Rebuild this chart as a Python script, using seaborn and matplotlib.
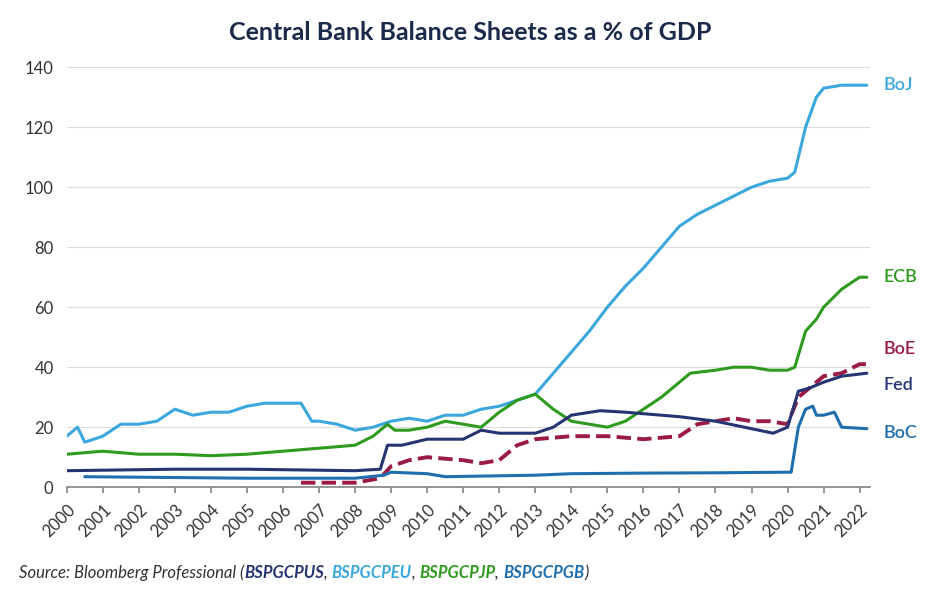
import matplotlib
matplotlib.use("Agg")
import matplotlib.pyplot as plt
import seaborn as sns
import pandas as pd

boj_t = [2000,2000.3,2000.5,2001,2001.5,2002,2002.5,2003,2003.5,2004,2004.5,2005,2005.5,2006,2006.5,2006.8,2007,2007.5,2008,2008.5,2009,2009.5,2010,2010.5,2011,2011.5,2012,2012.5,2013,2013.5,2014,2014.5,2015,2015.5,2016,2016.5,2017,2017.5,2018,2018.5,2019,2019.5,2020,2020.2,2020.5,2020.8,2021,2021.5,2022,2022.2]
boj_v = [17,20,15,17,21,21,22,26,24,25,25,27,28,28,28,22,22,21,19,20,22,23,22,24,24,26,27,29,31,38,45,52,60,67,73,80,87,91,94,97,100,102,103,105,120,130,133,134,134,134]
ecb_t = [2000,2001,2002,2003,2004,2005,2006,2007,2008,2008.5,2008.9,2009.1,2009.5,2010,2010.5,2011,2011.5,2012,2012.5,2013,2013.5,2014,2014.5,2015,2015.5,2016,2016.5,2017,2017.3,2018,2018.5,2019,2019.5,2020,2020.2,2020.5,2020.8,2021,2021.5,2022,2022.2]
ecb_v = [11,12,11,11,10.5,11,12,13,14,17,21,19,19,20,22,21,20,25,29,31,26,22,21,20,22,26,30,35,38,39,40,40,39,39,40,52,56,60,66,70,70]
fed_t = [2000,2003,2005,2008,2008.7,2008.9,2009.3,2010,2011,2011.5,2012,2013,2013.5,2014,2014.8,2015.5,2016,2017,2018,2019,2019.6,2020,2020.3,2020.6,2021,2021.5,2022.2]
fed_v = [5.5,6,6,5.5,6,14,14,16,16,19,18,18,20,24,25.5,25,24.5,23.5,22,19.5,18,20,32,33,35,37,38]
boe_t = [2006.5,2007,2008,2008.7,2009,2009.5,2010,2011,2011.5,2012,2012.5,2013,2014,2015,2016,2017,2017.5,2018,2018.5,2019,2019.5,2020,2020.3,2020.8,2021,2021.5,2022,2022.2]
boe_v = [1.5,1.5,1.5,3,7,9,10,9,8,9,14,16,17,17,16,17,21,22,23,22,22,21,30,35,37,38,41,41]
boc_t = [2000.5,2005,2008,2008.8,2009,2010,2010.5,2012,2013,2014,2016,2018,2020,2020.1,2020.3,2020.5,2020.7,2020.8,2021,2021.3,2021.5,2022.2]
boc_v = [3.5,3,3,4,5,4.5,3.5,3.8,4,4.5,4.7,4.8,5,5,20,26,27,24,24,25,20,19.5]

years = list(range(2000, 2023))

sns.set_theme(style="white")
plt.rcParams['font.family'] = ['Lato', 'DejaVu Sans']

fig = plt.figure(figsize=(9.4, 6.0), dpi=100)
ax = fig.add_axes([0.071, 0.188, 0.855, 0.70])

series = [("BoJ", boj_t, boj_v, "#3AA8DC", "-"),
          ("ECB", ecb_t, ecb_v, "#2E9A1E", "-"),
          ("BoE", boe_t, boe_v, "#9B1B47", "--"),
          ("Fed", fed_t, fed_v, "#263572", "-"),
          ("BoC", boc_t, boc_v, "#1F6FAE", "-")]
for name, t, v, c, ls in series:
    df = pd.DataFrame({"t": t, "v": v})
    sns.lineplot(data=df, x="t", y="v", ax=ax, color=c, linewidth=2.8 if ls == "--" else 2.2, linestyle=ls)
    yl = {"BoJ": 134, "ECB": 70, "BoE": 46, "Fed": 34, "BoC": 18}[name]
    ax.text(2022.65, yl, name, color=c, fontsize=13, fontweight="semibold", va="center", ha="left")

ax.set_xlim(2000, 2022.3)
ax.set_ylim(0, 140)
ax.set_yticks(range(0, 141, 20))
ax.set_xticks(years)
ax.set_xticklabels([str(y) for y in years], rotation=45, ha="right", rotation_mode="anchor")
ax.tick_params(axis='both', labelsize=12, colors="#333333")
ax.tick_params(axis='x', length=4, color="#888888", bottom=True, pad=6)
ax.set_xlabel("")
ax.set_ylabel("")
ax.grid(axis="y", color="#dddddd", linewidth=0.8)
for s in ["top", "right", "left"]:
    ax.spines[s].set_visible(False)
ax.spines["bottom"].set_color("#888888")

fig.text(0.5, 0.945, "Central Bank Balance Sheets as a % of GDP", ha="center", va="center",
         fontsize=18, fontweight="bold", color="#1B2A4A")

parts = [("Source: Bloomberg Professional (", "#333333", "normal"),
         ("BSPGCPUS", "#263572", "bold"), (", ", "#333333", "normal"),
         ("BSPGCPEU", "#3AA8DC", "bold"), (", ", "#333333", "normal"),
         ("BSPGCPJP", "#2E9A1E", "bold"), (", ", "#333333", "normal"),
         ("BSPGCPGB", "#1F6FAE", "bold"), (")", "#333333", "normal")]
fig.canvas.draw()
x = 0.02
r = fig.canvas.get_renderer()
for txt, c, w in parts:
    t = fig.text(x, 0.045, txt, color=c, fontweight=w, style="italic", fontsize=12, va="center")
    bb = t.get_window_extent(renderer=r)
    x += bb.width / fig.bbox.width

fig.savefig("out.png", dpi=100)
